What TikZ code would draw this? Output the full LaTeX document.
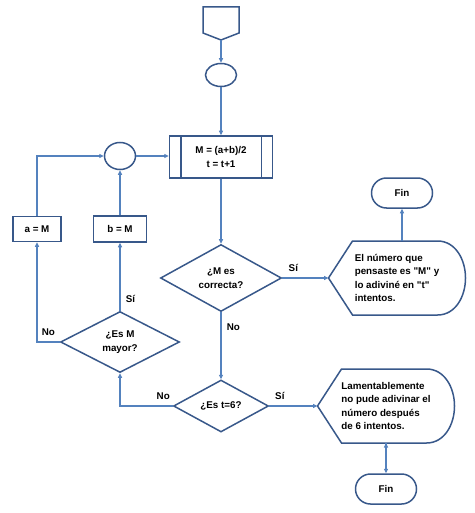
\documentclass[tikz,border=0pt]{standalone}
\usepackage{fontspec}
\setmainfont{Liberation Sans}[Ligatures=TeXOff]
\usetikzlibrary{arrows.meta,positioning,shapes.geometric,shapes.misc}
\definecolor{shpblue}{RGB}{56,88,138}
\definecolor{lnblue}{RGB}{84,130,190}
\tikzset{
  shp/.style={draw=shpblue,line width=1.5pt},
  box/.style={shp,rectangle,inner sep=0pt},
  circ/.style={shp,ellipse,inner sep=0pt,minimum width=31},
  decision/.style={shp,diamond,inner sep=0pt,align=center},
  calcbox/.style={box,minimum width=103,minimum height=42,align=center},
  msg/.style={rectangle,inner sep=0pt,outer sep=0pt,minimum width=137,minimum height=74,align=left},
  fin/.style={shp,rounded rectangle,inner sep=0pt,minimum width=61,minimum height=30},
  page/.style={rectangle,inner sep=0pt,outer sep=0pt,minimum width=36,minimum height=33},
  conn/.style={draw=lnblue,line width=1.1pt,-{Triangle[length=4.5pt,width=4pt]}},
  hv/.style={to path={-| (\tikztotarget) \tikztonodes}},
  vh/.style={to path={|- (\tikztotarget) \tikztonodes}}
}
\newcommand{\offpage}[1]{\draw[shp] (#1.north west) -- (#1.north east) -- ([yshift=7]#1.south east)
  -- (#1.south) -- ([yshift=7]#1.south west) -- cycle;}
\newcommand{\display}[1]{\draw[shp] (#1.west) -- ([xshift=24]#1.north west) -- ([xshift=-28]#1.north east)
  to[out=0,in=90] (#1.east) to[out=-90,in=0] ([xshift=-28]#1.south east) -- ([xshift=24]#1.south west) -- cycle;}

\begin{document}
\begin{tikzpicture}[x=1pt,y=1pt,on grid,auto,font=\bfseries\fontsize{9.8}{13.5}\selectfont]
   \useasboundingbox (0,0) rectangle (474,-513);
   \node[page] (start) at (221,-23.5) {};
   \node[circ,minimum height=23] (conn) [below=51.5 of start] {};
   \node[calcbox] (calc) [below=82 of conn] {M = (a+b)/2\\t = t+1};
   \node[decision,minimum width=121,minimum height=67] (ok) [below=121 of calc] {¿M es\\correcta?};
   \node[decision,minimum width=95,minimum height=52] (tsix) [below=128 of ok] {¿Es t=6?};
   \node[decision,minimum width=119,minimum height=61] (big) [above left=64 and 101 of tsix] {¿Es M\\mayor?};
   \node[box,minimum width=53,minimum height=26] (b) [above=113 of big] {b = M};
   \node[box,minimum width=48,minimum height=25] (a) [left=83 of b] {a = M};
   \node[circ,minimum height=27] (join) [above=73 of b] {};
   \node[msg] (msgok) [right=176 of ok] {El número que\\pensaste es "M" y\\lo adiviné en "t"\\intentos.};
   \node[fin] (finok) [above right=85 and 5 of msgok] {Fin};
   \node[msg] (msgno) [right=165 of tsix] {Lamentablemente\\no pude adivinar el\\número después\\de 6 intentos.};
   \node[fin] (finno) [below=83 of msgno] {Fin};
   \offpage{start}
   \display{msgok}
   \display{msgno}
   \draw[shp] ([xshift=12]calc.north west) -- ([xshift=12]calc.south west)
              ([xshift=-12]calc.north east) -- ([xshift=-12]calc.south east);
    \path[conn]
    (start) edge (conn)
    (conn) edge (calc)
    (join) edge (join -| calc.west)
    (calc) edge (ok)
    (ok) edge node [pos=.24,yshift=3] {Sí} (msgok)
         edge node [pos=.22,xshift=2] {No} (tsix)
    (tsix) edge node [pos=.22,yshift=3] {Sí} (msgno)
           edge [hv] node [pos=.09,swap,yshift=3] {No} (big)
    (big) edge node [pos=.17,swap,xshift=2] {Sí} (b)
          edge [hv] node [pos=.25,swap,yshift=3] {No} (a)
    (a) edge [vh] (join)
    (b) edge (join)
    (msgok.north -| finok) edge (finok)
    (msgno.south -| finno) edge (finno)
    ;
\end{tikzpicture}
\end{document}
